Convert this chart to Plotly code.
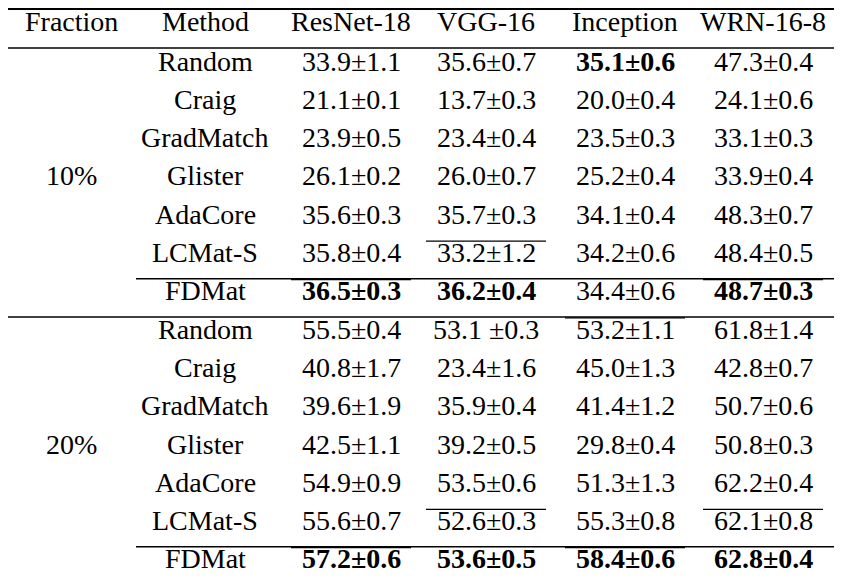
import plotly.graph_objects as go

headers = ["Fraction", "Method", "ResNet-18", "VGG-16", "Inception", "WRN-16-8"]
fractions = ["10%", "20%"]
methods = ["Random", "Craig", "GradMatch", "Glister", "AdaCore", "LCMat-S", "FDMat"]
values = [
    # 10%
    ["33.9±1.1", "35.6±0.7", "35.1±0.6", "47.3±0.4"],
    ["21.1±0.1", "13.7±0.3", "20.0±0.4", "24.1±0.6"],
    ["23.9±0.5", "23.4±0.4", "23.5±0.3", "33.1±0.3"],
    ["26.1±0.2", "26.0±0.7", "25.2±0.4", "33.9±0.4"],
    ["35.6±0.3", "35.7±0.3", "34.1±0.4", "48.3±0.7"],
    ["35.8±0.4", "33.2±1.2", "34.2±0.6", "48.4±0.5"],
    ["36.5±0.3", "36.2±0.4", "34.4±0.6", "48.7±0.3"],
    # 20%
    ["55.5±0.4", "53.1 ±0.3", "53.2±1.1", "61.8±1.4"],
    ["40.8±1.7", "23.4±1.6", "45.0±1.3", "42.8±0.7"],
    ["39.6±1.9", "35.9±0.4", "41.4±1.2", "50.7±0.6"],
    ["42.5±1.1", "39.2±0.5", "29.8±0.4", "50.8±0.3"],
    ["54.9±0.9", "53.5±0.6", "51.3±1.3", "62.2±0.4"],
    ["55.6±0.7", "52.6±0.3", "55.3±0.8", "62.1±0.8"],
    ["57.2±0.6", "53.6±0.5", "58.4±0.6", "62.8±0.4"],
]
# style: b = bold, u = underline, "" = plain
styles = [
    ["", "", "b", ""],
    ["", "", "", ""],
    ["", "", "", ""],
    ["", "", "", ""],
    ["", "u", "", ""],
    ["u", "", "", "u"],
    ["b", "b", "u", "b"],
    ["", "", "", ""],
    ["", "", "", ""],
    ["", "", "", ""],
    ["", "", "", ""],
    ["", "u", "", "u"],
    ["u", "", "u", ""],
    ["b", "b", "b", "b"],
]

W, H = 842, 582
col_x = [63, 197, 343, 478, 617, 755]
header_y = 20
row0, dy = 60, 38.3
TEXT_SHIFT = -7
FONT = dict(family="Liberation Serif, Times New Roman, serif", size=28, color="black")

fig = go.Figure()
ann = []
shapes = []
for i, h in enumerate(headers):
    ann.append(dict(x=col_x[i], y=header_y + TEXT_SHIFT, text=h))
for r, row in enumerate(values):
    y = row0 + r * dy
    ann.append(dict(x=col_x[1], y=y + TEXT_SHIFT, text=methods[r % 7]))
    for c, v in enumerate(row):
        s = styles[r][c]
        t = f"<b>{v}</b>" if s == "b" else v
        ann.append(dict(x=col_x[c + 2], y=y + TEXT_SHIFT, text=t))
        if s == "u":
            shapes.append(dict(type="line", x0=col_x[c + 2] - 60, x1=col_x[c + 2] + 60,
                               y0=y + 20, y1=y + 20, line=dict(color="black", width=1.3)))
for k, f in enumerate(fractions):
    ann.append(dict(x=col_x[0], y=row0 + (k * 7 + 3) * dy + TEXT_SHIFT, text=f))

for a in ann:
    a.update(xref="x", yref="y", showarrow=False, font=FONT, xanchor="center", yanchor="middle")

def hline(y, x0=0, w=1.5):
    shapes.append(dict(type="line", x0=x0, x1=W, y0=y, y1=y, line=dict(color="black", width=w)))

hline(1, w=2)
hline(40)
hline(row0 + 5.5 * dy, x0=128)
hline(row0 + 6.5 * dy)
hline(row0 + 12.5 * dy, x0=128)
hline(580, w=2)

fig.add_trace(go.Scatter(x=[0, W], y=[0, H], mode="markers", marker=dict(opacity=0), hoverinfo="skip"))
fig.update_layout(width=W, height=H, margin=dict(l=0, r=0, t=0, b=0),
                  plot_bgcolor="white", paper_bgcolor="white", showlegend=False,
                  annotations=ann, shapes=shapes,
                  xaxis=dict(range=[0, W], visible=False, fixedrange=True),
                  yaxis=dict(range=[H, 0], visible=False, fixedrange=True))
fig.write_html("out.html")
